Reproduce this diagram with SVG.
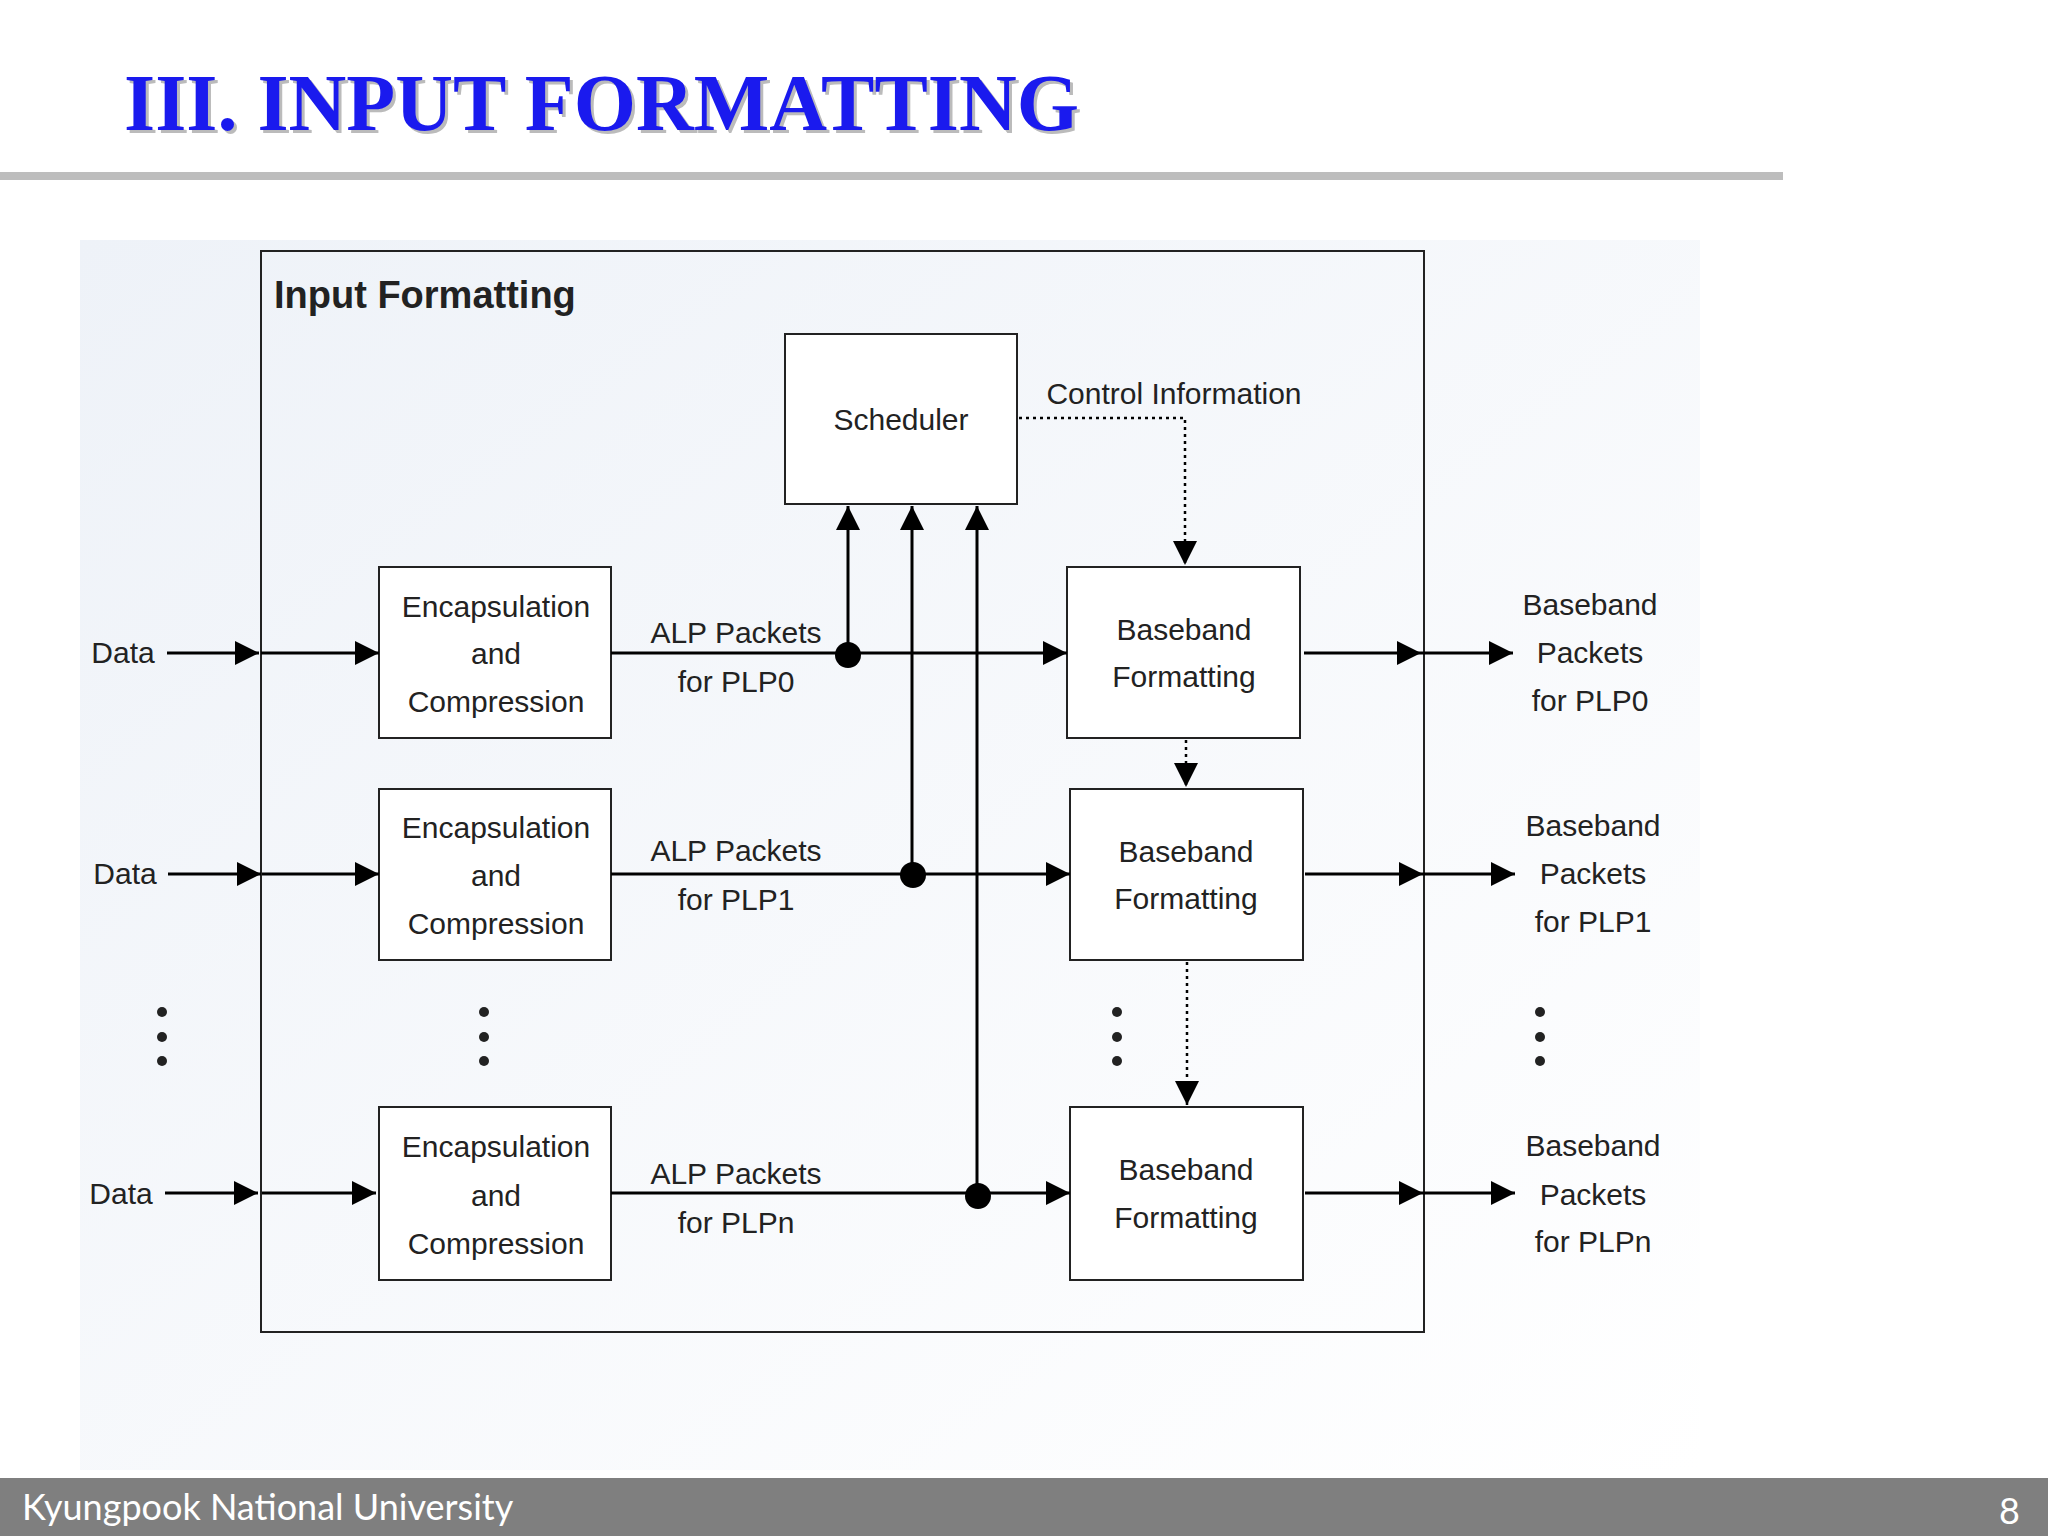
<svg xmlns="http://www.w3.org/2000/svg" width="2048" height="1536" viewBox="0 0 2048 1536">
<defs>
<marker id="ah" viewBox="0 0 10 10" refX="10" refY="5" markerWidth="8" markerHeight="8" markerUnits="userSpaceOnUse" orient="auto"><path d="M0,0 L10,5 L0,10 z" fill="#000"/></marker>
<marker id="a" viewBox="0 0 10 10" refX="10" refY="5" markerWidth="24" markerHeight="24" markerUnits="userSpaceOnUse" orient="auto"><path d="M0,0 L10,5 L0,10 z" fill="#000"/></marker>
<linearGradient id="bg" x1="0" y1="0" x2="1" y2="1"><stop offset="0" stop-color="#eef2f8"/><stop offset="1" stop-color="#ffffff"/></linearGradient>
</defs>
<style>
.t{font-family:"Liberation Sans",Arial,sans-serif;font-size:30px;fill:#222;text-anchor:middle}
.box{fill:#fff;stroke:#222;stroke-width:2}
.ln{stroke:#000;stroke-width:3;fill:none}
.dl{stroke:#000;stroke-width:2.5;fill:none;stroke-dasharray:3 4}
</style>
<rect width="2048" height="1536" fill="#fff"/>
<text x="127" y="133" font-family="Liberation Serif,serif" font-weight="bold" font-size="80" fill="#bbb">III. INPUT FORMATTING</text>
<text x="124" y="130" font-family="Liberation Serif,serif" font-weight="bold" font-size="80" fill="#1a1aee">III. INPUT FORMATTING</text>
<rect x="0" y="172" width="1783" height="8" fill="#bdbdbd"/>
<rect x="80" y="240" width="1620" height="1230" fill="url(#bg)"/>
<rect x="261" y="251" width="1163" height="1081" fill="none" stroke="#222" stroke-width="2"/>
<text x="274" y="308" font-family="Liberation Sans,Arial,sans-serif" font-size="38" font-weight="bold" fill="#222">Input Formatting</text>

<g id="scheduler"><rect class="box" x="785" y="334" width="232" height="170"/><text class="t" x="901" y="430">Scheduler</text></g>

<g id="enc0"><rect class="box" x="379" y="567" width="232" height="171"/><text class="t" x="496" y="617">Encapsulation</text><text class="t" x="496" y="664">and</text><text class="t" x="496" y="712">Compression</text></g>
<g id="enc1"><rect class="box" x="379" y="789" width="232" height="171"/><text class="t" x="496" y="838">Encapsulation</text><text class="t" x="496" y="886">and</text><text class="t" x="496" y="934">Compression</text></g>
<g id="encn"><rect class="box" x="379" y="1107" width="232" height="173"/><text class="t" x="496" y="1157">Encapsulation</text><text class="t" x="496" y="1206">and</text><text class="t" x="496" y="1254">Compression</text></g>

<g id="bb0"><rect class="box" x="1067" y="567" width="233" height="171"/><text class="t" x="1184" y="640">Baseband</text><text class="t" x="1184" y="687">Formatting</text></g>
<g id="bb1"><rect class="box" x="1070" y="789" width="233" height="171"/><text class="t" x="1186" y="862">Baseband</text><text class="t" x="1186" y="909">Formatting</text></g>
<g id="bbn"><rect class="box" x="1070" y="1107" width="233" height="173"/><text class="t" x="1186" y="1180">Baseband</text><text class="t" x="1186" y="1228">Formatting</text></g>

<g id="labels">
<text class="t" x="123" y="663">Data</text><text class="t" x="125" y="884">Data</text><text class="t" x="121" y="1204">Data</text>
<text class="t" x="736" y="643">ALP Packets</text><text class="t" x="736" y="692">for PLP0</text>
<text class="t" x="736" y="861">ALP Packets</text><text class="t" x="736" y="910">for PLP1</text>
<text class="t" x="736" y="1184">ALP Packets</text><text class="t" x="736" y="1233">for PLPn</text>
<text class="t" x="1590" y="615">Baseband</text><text class="t" x="1590" y="663">Packets</text><text class="t" x="1590" y="711">for PLP0</text>
<text class="t" x="1593" y="836">Baseband</text><text class="t" x="1593" y="884">Packets</text><text class="t" x="1593" y="932">for PLP1</text>
<text class="t" x="1593" y="1156">Baseband</text><text class="t" x="1593" y="1205">Packets</text><text class="t" x="1593" y="1252">for PLPn</text>
<text class="t" x="1174" y="404">Control Information</text>
</g>

<g id="connectors">
<path class="ln" d="M167,653 H259" marker-end="url(#a)"/><path class="ln" d="M261,653 H379" marker-end="url(#a)"/>
<path class="ln" d="M168,874 H261" marker-end="url(#a)"/><path class="ln" d="M262,874 H379" marker-end="url(#a)"/>
<path class="ln" d="M165,1193 H258" marker-end="url(#a)"/><path class="ln" d="M262,1193 H376" marker-end="url(#a)"/>
<path class="ln" d="M611,653 H1067" marker-end="url(#a)"/>
<path class="ln" d="M611,874 H1070" marker-end="url(#a)"/>
<path class="ln" d="M611,1193 H1070" marker-end="url(#a)"/>
<path class="ln" d="M848,653 V506" marker-end="url(#a)"/>
<path class="ln" d="M912,874 V506" marker-end="url(#a)"/>
<path class="ln" d="M977,1196 V506" marker-end="url(#a)"/>
<circle cx="848" cy="655" r="13"/><circle cx="913" cy="875" r="13"/><circle cx="978" cy="1196" r="13"/>
<path class="ln" d="M1304,653 H1421" marker-end="url(#a)"/><path class="ln" d="M1421,653 H1513" marker-end="url(#a)"/>
<path class="ln" d="M1305,874 H1423" marker-end="url(#a)"/><path class="ln" d="M1423,874 H1515" marker-end="url(#a)"/>
<path class="ln" d="M1305,1193 H1423" marker-end="url(#a)"/><path class="ln" d="M1423,1193 H1515" marker-end="url(#a)"/>
<path class="dl" d="M1019,418 H1185 V565" marker-end="url(#a)"/>
<path class="dl" d="M1186,740 V787" marker-end="url(#a)"/>
<path class="dl" d="M1187,962 V1105" marker-end="url(#a)"/>
</g>
<g id="dots" fill="#222">
<circle cx="162" cy="1012" r="5"/><circle cx="162" cy="1037" r="5"/><circle cx="162" cy="1061" r="5"/>
<circle cx="484" cy="1012" r="5"/><circle cx="484" cy="1037" r="5"/><circle cx="484" cy="1061" r="5"/>
<circle cx="1117" cy="1012" r="5"/><circle cx="1117" cy="1037" r="5"/><circle cx="1117" cy="1061" r="5"/>
<circle cx="1540" cy="1012" r="5"/><circle cx="1540" cy="1037" r="5"/><circle cx="1540" cy="1061" r="5"/>
</g>
<rect x="0" y="1478" width="2048" height="58" fill="#7f7f7f"/>
<text x="22" y="1520" font-family="Lato,sans-serif" font-size="36" fill="#fff">Kyungpook National University</text>
<text x="2020" y="1524" font-family="Lato,sans-serif" font-size="36" fill="#fff" text-anchor="end">8</text>
</svg>
